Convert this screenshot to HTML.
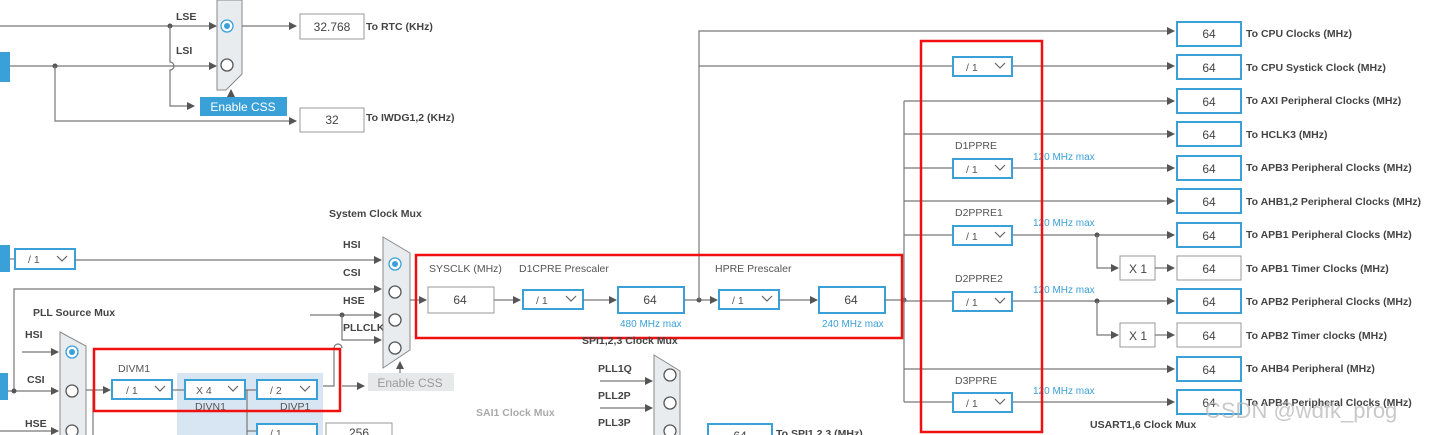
<!DOCTYPE html>
<html><head><meta charset="utf-8"><style>
html,body{margin:0;padding:0;background:#fff;width:1440px;height:435px;overflow:hidden}
svg{display:block;font-family:"Liberation Sans",sans-serif}
.l{font-size:10.5px;font-weight:bold;fill:#444}
.g{font-size:10.5px;fill:#555}
.v{font-size:12px;fill:#444;text-anchor:middle}
.b{font-size:10px;fill:#3aa0d8}
.w{stroke:#777;stroke-width:1.2;fill:none}
.bx{fill:#fff;stroke:#3aa0d8;stroke-width:2}
.gx{fill:#fff;stroke:#999;stroke-width:1}
.dd{fill:#fff;stroke:#3aa0d8;stroke-width:2}
.r{fill:none;stroke:#f01010;stroke-width:2.5}
.mux{fill:#e8ecef;stroke:#888;stroke-width:1}
</style></head><body>
<svg width="1440" height="435" viewBox="0 0 1440 435">
<defs>
<marker id="a" markerWidth="8" markerHeight="8" refX="7" refY="4" orient="auto" markerUnits="userSpaceOnUse"><path d="M0,0 L8,4 L0,8z" fill="#555"/></marker>
<g id="chev"><path d="M0,0 L5,5 L10,0" fill="none" stroke="#666" stroke-width="1.2"/></g>
</defs>

<!-- ===== top-left LSE/LSI ===== -->
<rect x="0" y="52" width="10" height="30" fill="#3aa0d8"/>
<path class="w" d="M0,26 H216" marker-end="url(#a)"/>
<circle cx="170" cy="26" r="2.5" fill="#555"/>
<path class="w" d="M170,26 V62 A4,4 0 0 1 170,70 V106 H194" marker-end="url(#a)"/>
<path class="w" d="M10,66 H216" marker-end="url(#a)"/>
<circle cx="55" cy="66" r="2.5" fill="#555"/>
<path class="w" d="M55,66 V121 H296" marker-end="url(#a)"/>
<path class="mux" d="M217,0 H242 V74 L226,90 L217,90 Z"/>
<circle cx="227" cy="26" r="6" fill="#fff" stroke="#3aa0d8" stroke-width="1.3"/><circle cx="227" cy="26" r="3" fill="#3aa0d8"/>
<circle cx="227" cy="65" r="6" fill="#fff" stroke="#555" stroke-width="1.3"/>
<path class="w" d="M231,96 V90" marker-end="url(#a)"/>
<text class="l" x="176" y="20">LSE</text><text class="l" x="176" y="54">LSI</text>
<rect x="200" y="97" width="87" height="19" fill="#3aa0d8"/>
<text x="243" y="111" font-size="12" fill="#fff" text-anchor="middle">Enable CSS</text>
<path class="w" d="M242,26 H296" marker-end="url(#a)"/>
<rect class="gx" x="300" y="14" width="64" height="25"/><text class="v" x="332" y="31">32.768</text>
<text class="l" x="366" y="30">To RTC (KHz)</text>
<rect class="gx" x="300" y="108" width="64" height="24"/><text class="v" x="332" y="124">32</text>
<text class="l" x="366" y="121">To IWDG1,2 (KHz)</text>

<!-- ===== system clock mux region ===== -->
<text class="l" x="329" y="217">System Clock Mux</text>
<rect x="0" y="245" width="10" height="27" fill="#3aa0d8"/>
<path class="w" d="M10,259 H15"/>
<rect class="dd" x="15" y="249" width="60" height="20"/><text class="g" x="28" y="263" font-size="12">/ 1</text><use href="#chev" x="57" y="256"/>
<path class="w" d="M75,260 H381" marker-end="url(#a)"/>
<text class="l" x="343" y="248">HSI</text>
<text class="l" x="343" y="276">CSI</text>
<path class="w" d="M14,391 V289 H381" marker-end="url(#a)"/>
<text class="l" x="343" y="304">HSE</text>
<path class="w" d="M310,315 H381" marker-end="url(#a)"/>
<circle cx="342" cy="315" r="2.5" fill="#555"/>
<text class="l" x="343" y="331">PLLCLK</text>
<path class="w" d="M342,315 V340 H381" marker-end="url(#a)"/>
<path class="w" d="M318,386 H334 V348 A4,4 0 0 1 342,348"/>
<path class="mux" d="M383,237 L410,253 V350 L383,368 Z"/>
<circle cx="395" cy="264" r="6" fill="#fff" stroke="#3aa0d8" stroke-width="1.3"/><circle cx="395" cy="264" r="3" fill="#3aa0d8"/>
<circle cx="395" cy="292" r="6" fill="#fff" stroke="#555" stroke-width="1.3"/>
<circle cx="395" cy="320" r="6" fill="#fff" stroke="#555" stroke-width="1.3"/>
<circle cx="395" cy="348" r="6" fill="#fff" stroke="#555" stroke-width="1.3"/>
<rect x="368" y="373" width="86" height="18" fill="#e6e8ea"/>
<text x="410" y="387" font-size="12" fill="#999" text-anchor="middle">Enable CSS</text>
<path class="w" d="M400,373 V362" marker-end="url(#a)"/>
<path class="w" d="M342,386 H364" marker-end="url(#a)"/>

<!-- PLL source mux -->
<text class="l" x="33" y="316">PLL Source Mux</text>
<text class="l" x="25" y="338">HSI</text><text class="l" x="27" y="383">CSI</text><text class="l" x="25" y="427">HSE</text>
<path class="w" d="M22,352 H58" marker-end="url(#a)"/>
<rect x="0" y="373" width="8" height="27" fill="#3aa0d8"/>
<path class="w" d="M8,391 H58" marker-end="url(#a)"/>
<circle cx="14" cy="391" r="2.5" fill="#555"/>
<path class="w" d="M0,431 H58" marker-end="url(#a)"/>
<path class="mux" d="M60,332 L86,346 V440 L60,440 Z"/>
<circle cx="72" cy="352" r="6" fill="#fff" stroke="#3aa0d8" stroke-width="1.3"/><circle cx="72" cy="352" r="3" fill="#3aa0d8"/>
<circle cx="72" cy="391" r="6" fill="#fff" stroke="#555" stroke-width="1.3"/>
<circle cx="72" cy="431" r="6" fill="#fff" stroke="#555" stroke-width="1.3"/>
<path class="w" d="M86,390 H110" marker-end="url(#a)"/>
<path class="w" d="M93,390 V440"/>
<rect x="177" y="373" width="146" height="62" fill="#d8e6f3"/>
<text class="g" x="118" y="372">DIVM1</text>
<rect class="dd" x="112" y="380" width="60" height="19"/><text class="g" x="126" y="394" font-size="12">/ 1</text><use href="#chev" x="155" y="386"/>
<path class="w" d="M172,390 H185"/>
<rect class="dd" x="185" y="380" width="60" height="19"/><text class="g" x="196" y="394" font-size="12">X 4</text><use href="#chev" x="228" y="386"/>
<path class="w" d="M245,390 H257 M247,390 V435"/>
<rect class="dd" x="257" y="380" width="60" height="19"/><text class="g" x="270" y="394" font-size="12">/ 2</text><use href="#chev" x="300" y="386"/>
<text class="g" x="195" y="410">DIVN1</text><text class="g" x="280" y="410">DIVP1</text>
<path class="w" d="M247,431 H257"/>
<rect class="dd" x="257" y="424" width="60" height="19"/><text class="g" x="270" y="437" font-size="12">/ 1</text>
<rect class="gx" x="326" y="423" width="66" height="20"/><text class="v" x="359" y="437">256</text>
<rect class="r" x="94" y="349" width="246" height="62"/>

<!-- SYSCLK chain -->
<path class="w" d="M410,300 H426" marker-end="url(#a)"/>
<text class="g" x="429" y="272">SYSCLK (MHz)</text>
<text class="g" x="519" y="272">D1CPRE Prescaler</text>
<text class="g" x="715" y="272">HPRE Prescaler</text>
<rect class="gx" x="428" y="287" width="66" height="26"/><text class="v" x="460" y="304">64</text>
<path class="w" d="M494,300 H520" marker-end="url(#a)"/>
<rect class="dd" x="523" y="290" width="60" height="19"/><text class="g" x="536" y="304" font-size="12">/ 1</text><use href="#chev" x="566" y="296"/>
<path class="w" d="M583,300 H616" marker-end="url(#a)"/>
<rect class="bx" x="618" y="287" width="66" height="26"/><text class="v" x="650" y="304">64</text>
<text class="b" x="620" y="327">480 MHz max</text>
<path class="w" d="M684,300 H717" marker-end="url(#a)"/>
<circle cx="699" cy="300" r="2.5" fill="#555"/>
<path class="w" d="M699,300 V31 H1174" marker-end="url(#a)"/>
<path class="w" d="M699,66 H952"/>
<rect class="dd" x="719" y="290" width="60" height="19"/><text class="g" x="732" y="304" font-size="12">/ 1</text><use href="#chev" x="762" y="296"/>
<path class="w" d="M779,300 H817" marker-end="url(#a)"/>
<rect class="bx" x="819" y="287" width="66" height="26"/><text class="v" x="851" y="304">64</text>
<text class="b" x="822" y="327">240 MHz max</text>
<path class="w" d="M885,300 H904"/>
<circle cx="904" cy="300" r="2.5" fill="#555"/>
<rect class="r" x="416" y="255" width="486" height="83"/>

<!-- right bus -->
<path class="w" d="M904,101 V402"/>
<path class="w" d="M1012,66 H1174" marker-end="url(#a)"/>
<rect class="dd" x="953" y="57" width="59" height="19"/><text class="g" x="966" y="71" font-size="12">/ 1</text><use href="#chev" x="995" y="63"/>
<path class="w" d="M904,101 H1174" marker-end="url(#a)"/>
<path class="w" d="M904,134 H1174" marker-end="url(#a)"/>
<path class="w" d="M904,168 H1174" marker-end="url(#a)"/>
<path class="w" d="M904,201 H1174" marker-end="url(#a)"/>
<path class="w" d="M904,235 H1174" marker-end="url(#a)"/>
<path class="w" d="M904,301 H1174" marker-end="url(#a)"/>
<path class="w" d="M904,369 H1174" marker-end="url(#a)"/>
<path class="w" d="M904,402 H1174" marker-end="url(#a)"/>
<text class="g" x="955" y="149">D1PPRE</text><text class="g" x="955" y="216">D2PPRE1</text>
<text class="g" x="955" y="282">D2PPRE2</text><text class="g" x="955" y="384">D3PPRE</text>
<g>
<rect class="dd" x="953" y="159" width="59" height="19"/><text class="g" x="966" y="173" font-size="12">/ 1</text><use href="#chev" x="995" y="165"/>
<rect class="dd" x="953" y="226" width="59" height="19"/><text class="g" x="966" y="240" font-size="12">/ 1</text><use href="#chev" x="995" y="232"/>
<rect class="dd" x="953" y="292" width="59" height="19"/><text class="g" x="966" y="306" font-size="12">/ 1</text><use href="#chev" x="995" y="298"/>
<rect class="dd" x="953" y="393" width="59" height="19"/><text class="g" x="966" y="407" font-size="12">/ 1</text><use href="#chev" x="995" y="399"/>
</g>
<text class="b" x="1033" y="160">120 MHz max</text><text class="b" x="1033" y="226">120 MHz max</text>
<text class="b" x="1033" y="293">120 MHz max</text><text class="b" x="1033" y="394">120 MHz max</text>
<circle cx="1097" cy="235" r="2.5" fill="#555"/><circle cx="1097" cy="301" r="2.5" fill="#555"/>
<path class="w" d="M1097,235 V268 H1118" marker-end="url(#a)"/>
<path class="w" d="M1097,301 V335 H1118" marker-end="url(#a)"/>
<rect class="gx" x="1120" y="256" width="35" height="24"/><text class="v" x="1138" y="273">X 1</text>
<rect class="gx" x="1120" y="323" width="35" height="24"/><text class="v" x="1138" y="340">X 1</text>
<path class="w" d="M1155,268 H1174" marker-end="url(#a)"/>
<path class="w" d="M1155,335 H1174" marker-end="url(#a)"/>
<rect class="r" x="921" y="41" width="121" height="391"/>

<!-- outputs -->
<g>
<rect class="bx" x="1177" y="22" width="64" height="24"/><text class="v" x="1209" y="38">64</text>
<rect class="bx" x="1177" y="55" width="64" height="24"/><text class="v" x="1209" y="72">64</text>
<rect class="bx" x="1177" y="89" width="64" height="24"/><text class="v" x="1209" y="106">64</text>
<rect class="bx" x="1177" y="122" width="64" height="24"/><text class="v" x="1209" y="139">64</text>
<rect class="bx" x="1177" y="156" width="64" height="24"/><text class="v" x="1209" y="173">64</text>
<rect class="bx" x="1177" y="189" width="64" height="24"/><text class="v" x="1209" y="206">64</text>
<rect class="bx" x="1177" y="223" width="64" height="24"/><text class="v" x="1209" y="240">64</text>
<rect class="gx" x="1177" y="256" width="64" height="24"/><text class="v" x="1209" y="273">64</text>
<rect class="bx" x="1177" y="289" width="64" height="24"/><text class="v" x="1209" y="306">64</text>
<rect class="gx" x="1177" y="323" width="64" height="24"/><text class="v" x="1209" y="340">64</text>
<rect class="bx" x="1177" y="357" width="64" height="24"/><text class="v" x="1209" y="374">64</text>
<rect class="bx" x="1177" y="390" width="64" height="24"/><text class="v" x="1209" y="407">64</text>
</g>
<text class="l" x="1246" y="37">To CPU Clocks (MHz)</text>
<text class="l" x="1246" y="71">To CPU Systick Clock (MHz)</text>
<text class="l" x="1246" y="104">To AXI Peripheral Clocks (MHz)</text>
<text class="l" x="1246" y="138">To HCLK3 (MHz)</text>
<text class="l" x="1246" y="171">To APB3 Peripheral Clocks (MHz)</text>
<text class="l" x="1246" y="205">To AHB1,2 Peripheral Clocks (MHz)</text>
<text class="l" x="1246" y="238">To APB1 Peripheral Clocks (MHz)</text>
<text class="l" x="1246" y="272">To APB1 Timer Clocks (MHz)</text>
<text class="l" x="1246" y="305">To APB2 Peripheral Clocks (MHz)</text>
<text class="l" x="1246" y="339">To APB2 Timer clocks (MHz)</text>
<text class="l" x="1246" y="372">To AHB4 Peripheral (MHz)</text>
<text class="l" x="1246" y="406">To APB4 Peripheral Clocks (MHz)</text>

<!-- bottom middle -->
<text class="l" x="582" y="344">SPI1,2,3 Clock Mux</text>
<text class="l" x="476" y="416" fill="#aaa" style="fill:#aaa">SAI1 Clock Mux</text>
<text class="l" x="598" y="372">PLL1Q</text><text class="l" x="598" y="399">PLL2P</text><text class="l" x="598" y="426">PLL3P</text>
<path class="w" d="M600,381 H652" marker-end="url(#a)"/>
<path class="w" d="M600,408 H652" marker-end="url(#a)"/>
<path class="mux" d="M654,355 L680,371 V440 L654,440 Z"/>
<circle cx="670" cy="375" r="6" fill="#fff" stroke="#555" stroke-width="1.3"/>
<circle cx="670" cy="403" r="6" fill="#fff" stroke="#555" stroke-width="1.3"/>
<circle cx="670" cy="431" r="6" fill="#fff" stroke="#555" stroke-width="1.3"/>
<rect class="bx" x="708" y="424" width="64" height="20"/><text class="v" x="740" y="440">64</text>
<text class="l" x="776" y="437">To SPI1,2,3 (MHz)</text>
<text class="l" x="1090" y="428">USART1,6 Clock Mux</text>
<text x="1205" y="418" font-size="22" fill="#bbb" fill-opacity="0.8">CSDN @wdfk_prog</text>
</svg>
</body></html>
